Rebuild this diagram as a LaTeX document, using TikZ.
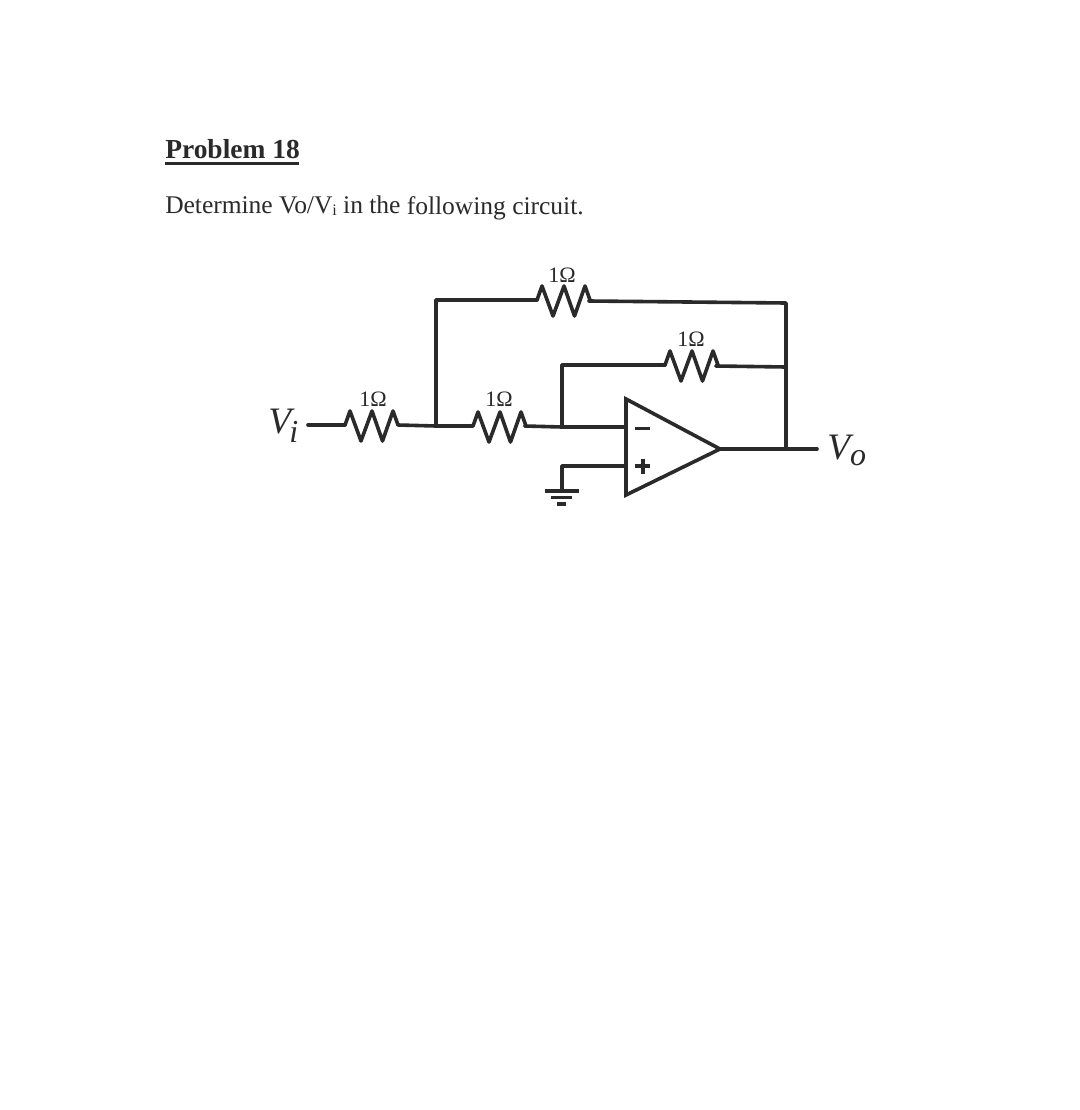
\documentclass[tikz,border=0pt]{standalone}
\usepackage{fontspec}
\setmainfont{Liberation Serif}
\definecolor{ink}{HTML}{2A2A2A}
\newcommand{\zigzag}[2]{%
  \draw[wire] (#1) -- ++(5,-14) -- ++(11,30) -- ++(11,-30) -- ++(10.5,30) -- ++(10.5,-30) -- ++(5,14) -- (#2);}
\newcommand{\subtxt}[1]{{\fontsize{24pt}{26pt}\selectfont #1}}
\tikzset{
  x=0.75pt,y=-0.75pt,
  wire/.style={draw=ink,line width=2.7pt,line join=round,line cap=round},
  ohm/.style={inner sep=0pt,text=ink,font=\fontsize{16.5pt}{17pt}\selectfont},
  title/.style={inner sep=0pt,anchor=base west,text=ink,font=\bfseries\fontsize{20.6pt}{22pt}\selectfont},
  body/.style={inner sep=0pt,anchor=base west,text=ink,rotate=-0.25,font=\fontsize{19.1pt}{21pt}\selectfont},
  volt/.style={inner sep=0pt,anchor=base west,text=ink,font=\itshape\fontsize{28pt}{30pt}\selectfont},
}
\begin{document}
\begin{tikzpicture}
\useasboundingbox (0,0) rectangle (1080,1110);
\fill[white] (0,0) rectangle (1080,1110);
% text
\node[title] (heading) at (165,158) {Problem 18};
\coordinate (ulA) at (165,163.5);
\coordinate (ulB) at (299,163.5);
\draw[ink,line width=2.2pt] (ulA) -- (ulB);
\node[body] (question) at (165,213) {Determine Vo/V{\fontsize{12pt}{12pt}\selectfont\raisebox{-1.5pt}{i}} in the following circuit.};
% points
\coordinate (inA) at (308,425);
\coordinate (r1a) at (345,425);
\coordinate (r1b) at (398,425);
\coordinate (j1) at (436,426);
\coordinate (r2a) at (473,426);
\coordinate (r2b) at (525,426);
\coordinate (j2) at (562,427);
\coordinate (tl) at (436,300);
\coordinate (r3a) at (537,300);
\coordinate (r3b) at (589,301);
\coordinate (tr) at (786,303);
\coordinate (fl) at (562,365);
\coordinate (r4a) at (665,365);
\coordinate (r4b) at (716,366);
\coordinate (fr) at (786,367);
\coordinate (ot) at (786,449);
\coordinate (oend) at (817,449);
\coordinate (oa1) at (626,399);
\coordinate (oa2) at (626,495);
\coordinate (oa3) at (720,449);
\coordinate (minus) at (626,427);
\coordinate (plus) at (626,466);
\coordinate (gt) at (562,466);
\coordinate (gb) at (562,491);
% resistors
\zigzag{r1a}{r1b}
\zigzag{r2a}{r2b}
\zigzag{r3a}{r3b}
\zigzag{r4a}{r4b}
% wires
\draw[wire] (inA) -- (r1a);
\draw[wire] (r1b) -- (j1) -- (r2a);
\draw[wire] (r2b) -- (j2) -- (minus);
\draw[wire] (j1) -- (tl) -- (r3a);
\draw[wire] (r3b) -- (tr) -- (ot);
\draw[wire] (j2) -- (fl) -- (r4a);
\draw[wire] (r4b) -- (fr);
\draw[wire] (oa3) -- (ot) -- (oend);
\draw[wire] (plus) -- (gt) -- (gb);
% op-amp
\draw[wire,line join=miter,fill=white] (oa1) -- (oa3) -- (oa2) -- cycle;
\draw[ink,line width=2.8pt] (635,428.5) -- (650,428.5);
\draw[ink,line width=3pt] (635,466) -- (650,466) (642.5,458.5) -- (642.5,473.5);
% ground
\draw[ink,line width=2.6pt] (545,491) -- (579,491);
\draw[ink,line width=2.6pt] (551,497.5) -- (572,497.5);
\draw[ink,line width=2.6pt] (557,504) -- (566,504);
% labels
\node[ohm] (lab1) at (373,399) {1Ω};
\node[ohm] (lab2) at (499,399) {1Ω};
\node[ohm] (lab3) at (562,275) {1Ω};
\node[ohm] (lab4) at (691,339) {1Ω};
\node[volt] (vi) at (268,433) {V\kern-1.35pt\raisebox{-6.75pt}{\subtxt{i}}};
\node[volt] (vo) at (827,459) {V\kern0pt\raisebox{-4.5pt}{\subtxt{o}}};
\end{tikzpicture}
\end{document}
